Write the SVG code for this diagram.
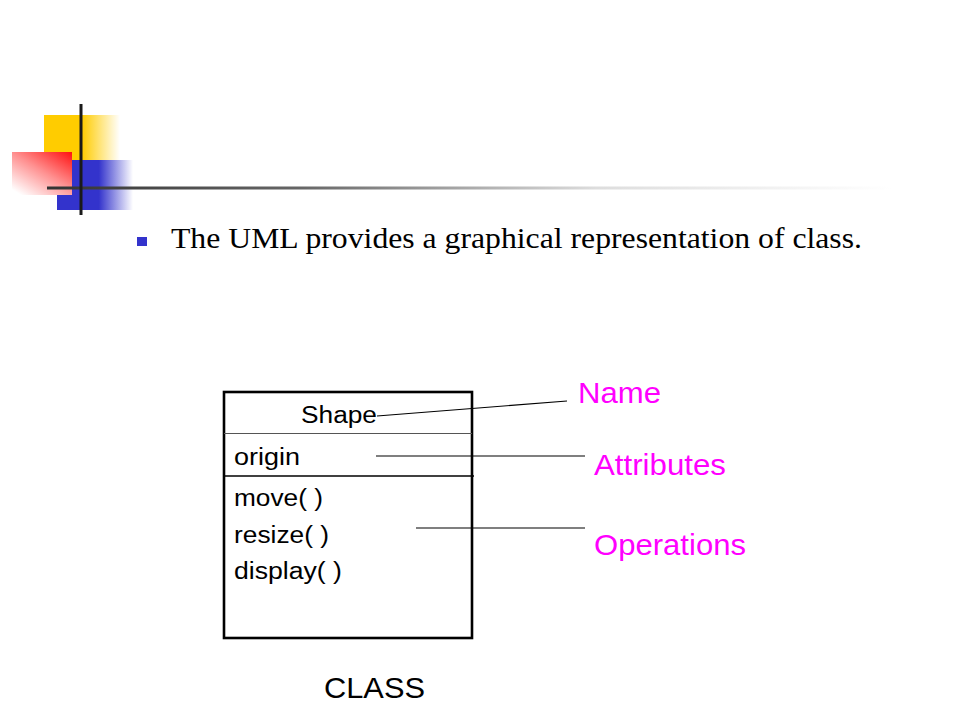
<svg xmlns="http://www.w3.org/2000/svg" width="960" height="720" viewBox="0 0 960 720">
<defs>
<linearGradient id="gY" x1="0" y1="0" x2="1" y2="0">
<stop offset="0" stop-color="#FFCC00"/><stop offset="0.5" stop-color="#FFCC00"/><stop offset="1" stop-color="#FFCC00" stop-opacity="0"/>
</linearGradient>
<linearGradient id="gB" x1="0" y1="0" x2="1" y2="0">
<stop offset="0" stop-color="#3333CC"/><stop offset="0.55" stop-color="#3333CC"/><stop offset="1" stop-color="#3333CC" stop-opacity="0"/>
</linearGradient>
<linearGradient id="gR" x1="1" y1="0" x2="0.15" y2="1">
<stop offset="0" stop-color="#FF1010"/><stop offset="0.5" stop-color="#FF9090"/><stop offset="1" stop-color="#FFFFFF"/>
</linearGradient>
<linearGradient id="gL" x1="0" y1="0" x2="1" y2="0">
<stop offset="0" stop-color="#333333"/><stop offset="0.3" stop-color="#666666"/><stop offset="0.65" stop-color="#dddddd"/><stop offset="1" stop-color="#ffffff"/>
</linearGradient>
<style>
.lbl{font-family:"Liberation Sans",Arial,sans-serif;font-size:29px;fill:#FF00FF;}
.cls{font-family:"Liberation Sans",Arial,sans-serif;font-size:23px;fill:#000;}
.conn{stroke:#000;stroke-width:1.2;fill:none;}
</style>
</defs>
<rect width="960" height="720" fill="#fff"/>
<g id="logo">
<rect x="44" y="115" width="76" height="45" fill="url(#gY)"/>
<rect x="57" y="160" width="76" height="50" fill="url(#gB)"/>
<rect x="12" y="152" width="60" height="43" fill="url(#gR)"/>
<rect x="47" y="186.5" width="845" height="3" fill="url(#gL)"/>
<rect x="79.5" y="104" width="3" height="111" fill="#1a1a1a"/>
</g>
<g id="bullet">
<rect x="137" y="237" width="10" height="9" fill="#3333CC"/>
<text x="171" y="248" font-family="'Liberation Serif','Times New Roman',serif" font-size="30" textLength="691" lengthAdjust="spacingAndGlyphs" fill="#000">The UML provides a graphical representation of class.</text>
</g>
<g id="class-shape">
<rect x="224" y="392" width="248" height="246" fill="#fff" stroke="#000" stroke-width="2.6"/>
<line x1="224" y1="433.5" x2="472" y2="433.5" stroke="#555" stroke-width="1.2"/>
<line x1="224" y1="476" x2="474" y2="476" stroke="#000" stroke-width="1.4"/>
<text class="cls" x="301" y="423" textLength="76" lengthAdjust="spacingAndGlyphs">Shape</text>
<text class="cls" x="234" y="465" textLength="66" lengthAdjust="spacingAndGlyphs">origin</text>
<text class="cls" x="234" y="506" textLength="89" lengthAdjust="spacingAndGlyphs">move( )</text>
<text class="cls" x="234" y="543" textLength="95" lengthAdjust="spacingAndGlyphs">resize( )</text>
<text class="cls" x="234" y="579" textLength="108" lengthAdjust="spacingAndGlyphs">display( )</text>
</g>
<g id="connectors">
<line class="conn" x1="377" y1="416" x2="567" y2="401"/>
<line class="conn" x1="376" y1="456" x2="585" y2="456"/>
<line class="conn" x1="416" y1="528" x2="585" y2="528"/>
</g>
<g id="label-name"><text class="lbl" x="578" y="403" textLength="83" lengthAdjust="spacingAndGlyphs">Name</text></g>
<g id="label-attributes"><text class="lbl" x="594" y="475" textLength="132" lengthAdjust="spacingAndGlyphs">Attributes</text></g>
<g id="label-operations"><text class="lbl" x="594" y="555" textLength="152" lengthAdjust="spacingAndGlyphs">Operations</text></g>
<g id="caption"><text x="324" y="698" font-family="'Liberation Sans',Arial,sans-serif" font-size="29" textLength="101" lengthAdjust="spacingAndGlyphs" fill="#000">CLASS</text></g>
</svg>
